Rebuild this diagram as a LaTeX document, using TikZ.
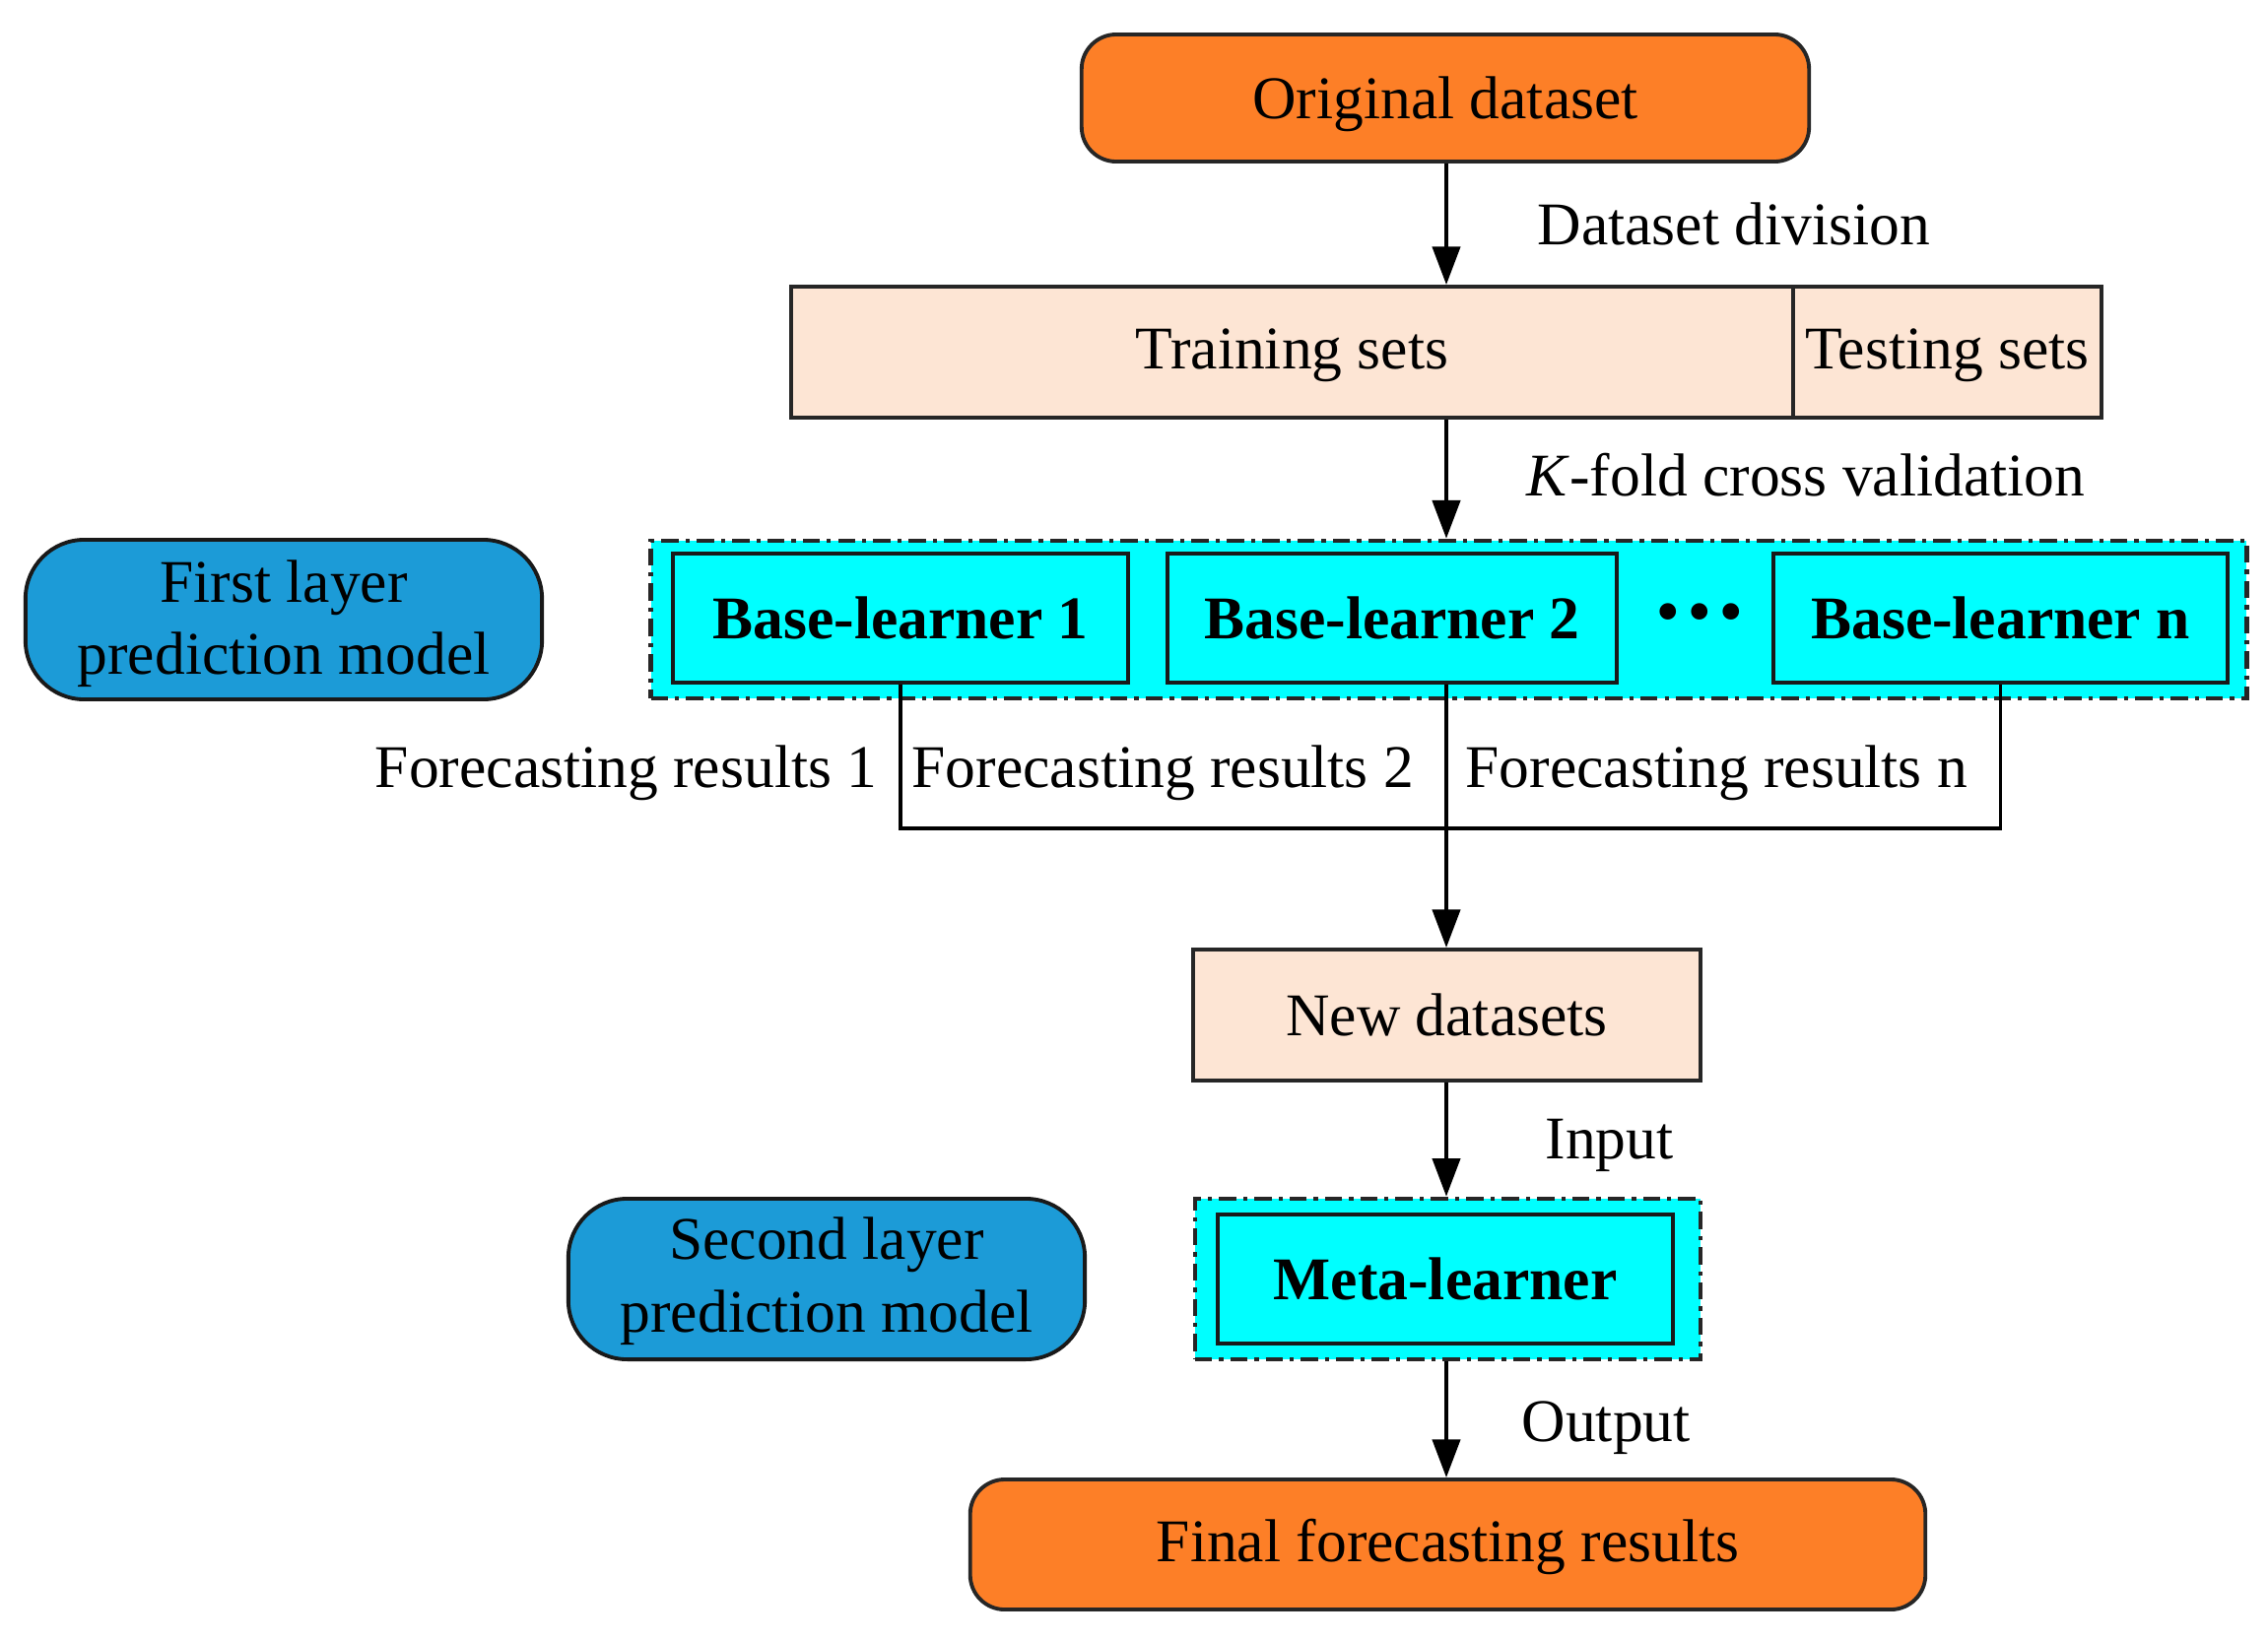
\documentclass[tikz,border=0pt]{standalone}
\usepackage{fontspec}
\setmainfont{Liberation Serif}
\usetikzlibrary{arrows.meta,calc}
\definecolor{orangef}{RGB}{253,127,39}
\definecolor{peach}{RGB}{253,229,212}
\definecolor{cyanf}{RGB}{0,255,255}
\definecolor{bluef}{RGB}{28,155,215}
\begin{document}
\begin{tikzpicture}[x=0.01cm,y=-0.01cm,
  font=\fontsize{17.5}{21}\selectfont,
  every node/.style={inner sep=0pt, align=center},
  orangebox/.style={draw=black!85, line width=1.1pt, fill=orangef, rounded corners=10pt},
  peachbox/.style={draw=black!85, line width=1.1pt, fill=peach},
  bluebox/.style={draw=black!90, line width=1.1pt, fill=bluef, rounded corners=17pt},
  learnbox/.style={draw=black!90, line width=1.1pt, fill=cyanf, font=\fontsize{17.5}{21}\selectfont\bfseries, minimum height=1.31cm},
  dashbox/.style={draw=black!85, line width=1.3pt, fill=cyanf, dash pattern=on 5pt off 2pt on 1.2pt off 2pt},
  arr/.style={line width=1.1pt, -{Triangle[length=11pt,width=8pt]}},
  ln/.style={line width=1.1pt}]
\useasboundingbox (0,0) rectangle (2302,1666);

% top
\node[orangebox, minimum width=7.38cm, minimum height=1.29cm, text depth=0pt] (orig) at (1467,99.5) {Original dataset};
\node[peachbox, minimum width=10.17cm, minimum height=1.33cm, text depth=2pt] (train) at (1311.5,357.5) {Training sets};
\node[peachbox, minimum width=3.13cm, minimum height=1.33cm, text depth=2pt] (test) at (1976.5,357.5) {Testing sets};
\coordinate (cx) at (1468,0);

% first layer
\node[dashbox, minimum width=16.19cm, minimum height=1.60cm] (outer) at (1470.5,629) {};
\node[learnbox, minimum width=4.62cm] (bl1) at (914,627.5) {Base-learner 1};
\node[learnbox, minimum width=4.56cm] (bl2) at (1413,627.5) {Base-learner 2};
\node[learnbox, minimum width=4.61cm] (bln) at (2030.5,627.5) {Base-learner n};
\node[font=\fontsize{17.5}{21}\selectfont\bfseries] (dots) at (1725,627) {\textbullet\hspace{3pt}\textbullet\hspace{3pt}\textbullet};
\node[bluebox, minimum width=5.24cm, minimum height=1.62cm] (first) at (288,629) {\rule{0pt}{14.5pt}First layer\\prediction model};

% labels
\node[anchor=west] (lab1) at (1560,227) {Dataset division};
\node[anchor=west] (lab2) at (1549,482) {\textit{K}-fold cross validation};
\node[anchor=east] (fr1) at (891,785) {Forecasting results 1};
\node[anchor=west] (fr2) at (925,785) {Forecasting results 2};
\node[anchor=west] (frn) at (1487,785) {Forecasting results n};

% second part
\node[peachbox, minimum width=5.15cm, minimum height=1.33cm] (newd) at (1468.5,1030.5) {New datasets};
\node[dashbox, minimum width=5.13cm, minimum height=1.63cm] (mouter) at (1469.5,1298.5) {};
\node[learnbox, minimum width=4.62cm] (meta) at (1467,1298.5) {Meta-learner};
\node[bluebox, minimum width=5.24cm, minimum height=1.63cm] (second) at (839,1298.5) {\rule{0pt}{13.5pt}Second layer\\prediction model};
\node[anchor=west] (lab3) at (1568,1163) {Input};
\node[anchor=west] (lab4) at (1544,1450) {Output};
\node[orangebox, minimum width=9.69cm, minimum height=1.32cm, text depth=2.5pt] (final) at (1469.5,1568) {Final forecasting results};

% connectors
\draw[arr] (orig.south -| cx) -- (train.north -| cx);
\draw[arr] (train.south -| cx) -- (outer.north -| cx);
\coordinate (merge) at (1468,841);
\draw[ln] (bl1.south) -- (bl1.south |- merge) -- (bln.south |- merge) -- (bln.south);
\draw[ln] (bl2.south -| cx) -- (merge);
\draw[arr] (merge) -- (newd.north -| cx);
\draw[arr] (newd.south -| cx) -- (mouter.north -| cx);
\draw[arr] (mouter.south -| cx) -- (final.north -| cx);
\end{tikzpicture}
\end{document}
